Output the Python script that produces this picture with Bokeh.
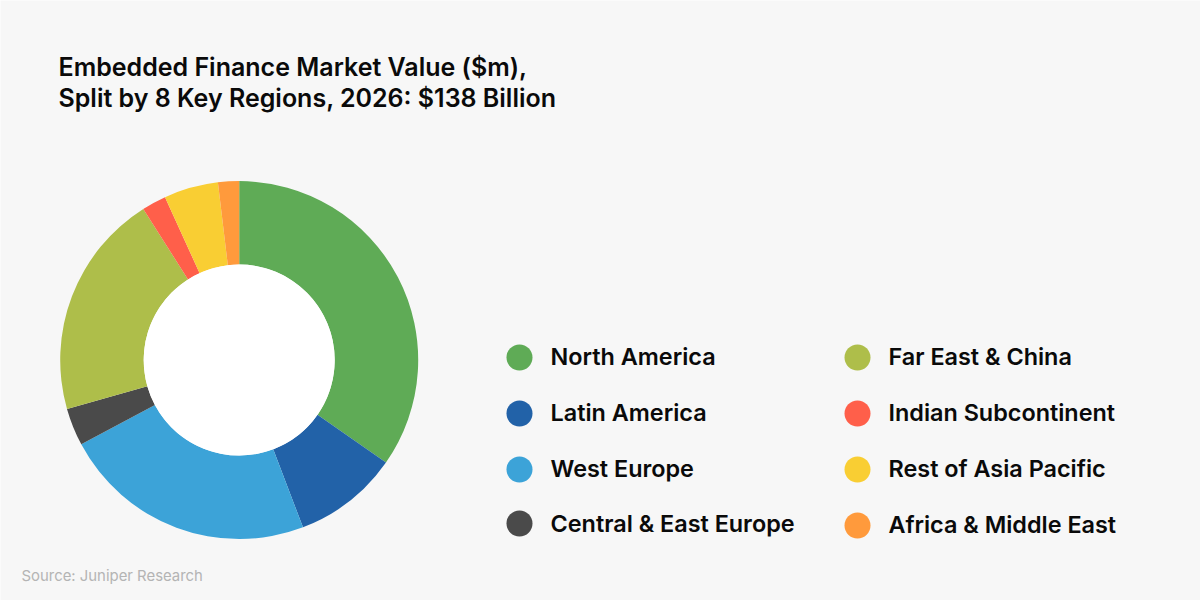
from math import pi
from bokeh.plotting import figure
from bokeh.core.properties import value
from bokeh.models import ColumnDataSource, Range1d
from bokeh.embed import file_html
from bokeh.resources import INLINE

regions = ["North America", "Latin America", "West Europe", "Central & East Europe",
           "Far East & China", "Indian Subcontinent", "Rest of Asia Pacific", "Africa & Middle East"]
shares = [34.7, 9.5, 23.0, 3.4, 20.4, 2.2, 4.9, 1.9]
colors = ["#5FAB56", "#2262A8", "#3CA3D8", "#4A4A4A", "#AEBE4A", "#FF5F4A", "#F9CE33", "#FF9A3C"]
title_lines = ["Embedded Finance Market Value ($m),", "Split by 8 Key Regions, 2026: $138 Billion"]
source_note = "Source: Juniper Research"

BG = "#F7F7F7"
CX, CY, R_OUT, R_IN = 238.7, 359.6, 179.0, 95.5
FONT = value("'Inter SemiBold', 'Inter Semi Bold', Inter")

p = figure(width=1200, height=600, output_backend="svg", toolbar_location=None,
           x_range=Range1d(0, 1200), y_range=Range1d(600, 0),
           min_border=0, outline_line_color=None, background_fill_color=BG,
           border_fill_color=BG)
p.axis.visible = False
p.grid.visible = False

total = sum(shares)
starts, ends, acc = [], [], 0.0
for s in shares:
    starts.append(pi / 2 - 2 * pi * acc / total)
    acc += s
    ends.append(pi / 2 - 2 * pi * acc / total)

src = ColumnDataSource(dict(start=starts, end=ends, color=colors, region=regions))
p.annular_wedge(x=CX, y=CY, inner_radius=R_IN, outer_radius=R_OUT, start_angle="start",
                end_angle="end", direction="clock", fill_color="color", line_color=None, source=src)
p.circle(x=CX, y=CY, radius=R_IN, fill_color="white", line_color=None)

leg_x = [519] * 4 + [857] * 4
leg_y = [357, 413, 469, 523, 357, 413, 469, 525]
leg_src = ColumnDataSource(dict(x=leg_x, y=leg_y, tx=[v + 31 for v in leg_x],
                                ty=[356, 412, 468, 523, 356, 412, 468, 524], color=colors, label=regions))
p.scatter(x="x", y="y", size=26, marker="circle", fill_color="color", line_color=None, source=leg_src)
p.text(x="tx", y="ty", text="label", text_font=FONT, text_font_size="23.4px",
       text_color="#0A0A0A", text_baseline="middle", text_align="left", source=leg_src)

p.text(x=[58, 58], y=[66.5, 97.5], text=title_lines, text_font=FONT, text_font_size="25px",
       text_color="#0A0A0A", text_baseline="middle", text_align="left")
p.text(x=[21], y=[575], text=[source_note], text_font=value("Inter"), text_font_size="14.9px",
       text_color="#B4B4B4", text_baseline="middle", text_align="left")

open("out.html", "w").write(file_html(p, INLINE))
